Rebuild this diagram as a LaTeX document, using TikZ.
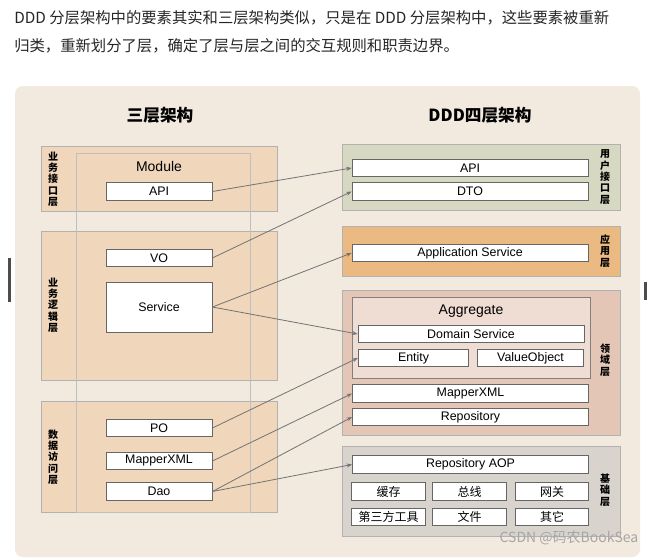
\documentclass[tikz,border=0pt]{standalone}
\usepackage{fontspec}
\setmainfont{Noto Sans CJK SC}
\newfontfamily\latinf{Liberation Sans}
\usetikzlibrary{arrows.meta}
\begin{document}
\begin{tikzpicture}[x=0.75pt,y=-0.75pt,
 layer/.style={draw=black!30,line width=0.6pt},
 item/.style={draw=black!60,fill=white,line width=0.6pt,inner sep=0pt,font=\latinf\fontsize{9.3}{10}\selectfont},
 vlab/.style={font=\bfseries\fontsize{7.5}{8.5}\selectfont,align=center,inner sep=0pt},
 conn/.style={draw=black!55,line width=0.6pt,-{Stealth[length=4pt,width=3pt]}},
 ttl/.style={font=\bfseries\fontsize{12.5}{14}\selectfont}]
\useasboundingbox (0,0) rectangle (655,557);
\fill[white] (0,0) rectangle (655,557);
\node[anchor=west,font=\fontsize{11.5}{13}\selectfont,text=black!85,inner sep=0pt] (h1) at (14,18) {DDD 分层架构中的要素其实和三层架构类似，只是在 DDD 分层架构中，这些要素被重新};
\node[anchor=west,font=\fontsize{11.5}{13}\selectfont,text=black!85,inner sep=0pt] (h2) at (14,46) {归类，重新划分了层，确定了层与层之间的交互规则和职责边界。};
\fill[fill=black!70] (8,258) rectangle (11,302);
\fill[fill=black!70] (644,282) rectangle (647,300);
\fill[rounded corners=6pt,fill={rgb,255:red,242;green,233;blue,223}] (15,86) rectangle (640,557);
\node[ttl] (t1) at (160,115) {三层架构};
\node[ttl] (t2) at (480,115) {DDD四层架构};
\definecolor{lo}{RGB}{240,214,186}
\draw[layer,fill=lo] (41,146) rectangle (277,211);
\draw[layer,fill=lo] (41,231) rectangle (277,380);
\draw[layer,fill=lo] (41,401) rectangle (277,512);
\draw[draw=black!25,line width=0.6pt] (76,153) rectangle (250,512);
\node[vlab] (l1) at (53,179) {业\\务\\接\\口\\层};
\node[vlab] (l2) at (53,305) {业\\务\\逻\\辑\\层};
\node[vlab] (l3) at (53,457) {数\\据\\访\\问\\层};
\node[font=\latinf\fontsize{10.5}{12}\selectfont] (mod) at (159,166) {Module};
\node[item,minimum width=79.5pt,minimum height=13pt] (a) at (159,191.5) {API};
\node[item,minimum width=79.5pt,minimum height=13pt] (vo) at (159,258) {VO};
\node[item,minimum width=79.5pt,minimum height=37.5pt] (svc) at (159,307) {Service};
\node[item,minimum width=79.5pt,minimum height=13pt] (po) at (159,428) {PO};
\node[item,minimum width=79.5pt,minimum height=13pt] (mx) at (159,461) {MapperXML};
\node[item,minimum width=79.5pt,minimum height=13pt] (dao) at (159,491.5) {Dao};
\draw[layer,fill={rgb,255:red,214;green,216;blue,193}] (342,144) rectangle (620,210);
\draw[layer,fill={rgb,255:red,234;green,186;blue,130}] (342,226) rectangle (620,276);
\draw[layer,fill={rgb,255:red,228;green,198;blue,182}] (342,290) rectangle (620,435);
\draw[layer,fill={rgb,255:red,216;green,211;blue,205}] (342,446) rectangle (620,536);
\draw[draw=black!50,line width=0.6pt,fill={rgb,255:red,239;green,221;blue,212}] (352,297) rectangle (590,378);
\node[vlab] (r1) at (605,177) {用\\户\\接\\口\\层};
\node[vlab] (r2) at (605,251) {应\\用\\层};
\node[vlab] (r3) at (605,360) {领\\域\\层};
\node[vlab] (r4) at (605,490) {基\\础\\层};
\node[font=\latinf\fontsize{10.5}{12}\selectfont] (agg) at (471,311) {Aggregate};
\node[item,minimum width=177pt,minimum height=13pt] (rapi) at (470,168) {API};
\node[item,minimum width=177pt,minimum height=13pt] (dto) at (470,191.5) {DTO};
\node[item,minimum width=177pt,minimum height=13pt] (as) at (470,253) {Application Service};
\node[item,minimum width=169.5pt,minimum height=13pt] (ds) at (471,334) {Domain Service};
\node[item,minimum width=83pt,minimum height=13pt] (ent) at (413.5,358) {Entity};
\node[item,minimum width=80pt,minimum height=13pt] (vob) at (530.5,358) {ValueObject};
\node[item,minimum width=177pt,minimum height=13pt] (rmx) at (470.5,393.5) {MapperXML};
\node[item,minimum width=177pt,minimum height=13pt] (rep) at (470.5,417) {Repository};
\node[item,minimum width=177pt,minimum height=13pt] (aop) at (470.5,464.5) {Repository AOP};
\begin{scope}[every node/.style={item,font=\fontsize{9}{10}\selectfont,minimum width=55pt,minimum height=13pt}]
\node (c1) at (388.5,491.5) {缓存};
\node (c2) at (469.5,491.5) {总线};
\node (c3) at (552,491.5) {网关};
\node (c4) at (388.5,517) {第三方工具};
\node (c5) at (469.5,517) {文件};
\node (c6) at (552,517) {其它};
\end{scope}
\node[text=black!35,font=\fontsize{10.5}{12}\selectfont,anchor=east] (wm) at (643,538) {CSDN @码农BookSea};
\draw[conn] (a.east) -- (rapi.west);
\draw[conn] (vo.east) -- (dto.west);
\draw[conn] (svc.east) -- (as.west);
\draw[conn] (svc.east) -- (ds.west);
\draw[conn] (po.east) -- (ent.west);
\draw[conn] (mx.east) -- (rmx.west);
\draw[conn] (dao.east) -- (rep.west);
\draw[conn] (dao.east) -- (aop.west);
\end{tikzpicture}
\end{document}
